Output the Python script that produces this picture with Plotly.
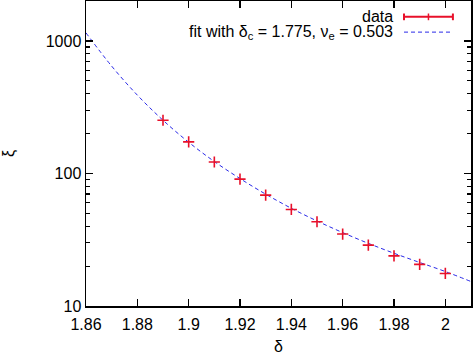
import plotly.graph_objects as go

# data
delta = [1.89, 1.90, 1.91, 1.92, 1.93, 1.94, 1.95, 1.96, 1.97, 1.98, 1.99, 2.00]
xi = [252, 173, 122, 90.6, 68.6, 53.5, 43.2, 34.9, 28.8, 23.9, 20.6, 17.6]

# fit curve values read at regular steps along the dashed line
fit_delta = [1.86, 1.87, 1.88, 1.89, 1.90, 1.91, 1.92, 1.93, 1.94, 1.95, 1.96, 1.97, 1.98, 1.99, 2.00, 2.01]
fit_xi = [1150, 645, 390, 252, 172, 123, 91.5, 69.8, 54.6, 43.8, 35.8, 29.7, 25.0, 21.3, 18.2, 15.3]

x_tickvals = [1.86, 1.88, 1.90, 1.92, 1.94, 1.96, 1.98, 2.00]
x_ticktext = ["1.86", "1.88", "1.9", "1.92", "1.94", "1.96", "1.98", "2"]
y_tickvals = [10, 100, 1000]
y_ticktext = ["10", "100", "1000"]
y_minor = [m * d for d in (10, 100, 1000) for m in range(2, 10)]

legend_labels = ["data", "fit with δ<sub>c</sub> = 1.775, ν<sub>e</sub> = 0.503"]

FONT = "Liberation Sans, Arial, Helvetica, sans-serif"
RED = "#e8102a"
BLUE = "#2a2ae8"

fig = go.Figure()
fig.add_trace(go.Scatter(
    x=fit_delta, y=fit_xi, mode="lines", line_shape="spline",
    line=dict(color=BLUE, width=1, dash="4px,3px"), showlegend=False,
))
fig.add_trace(go.Scatter(
    x=delta, y=xi, mode="markers",
    marker=dict(symbol="cross-thin", size=8, line=dict(color=RED, width=1.6)),
    showlegend=False,
))

axis_common = dict(
    showline=True, linecolor="black", linewidth=1.5, mirror="allticks",
    ticks="inside", tickcolor="black", tickwidth=1.5, showgrid=False, zeroline=False,
    tickfont=dict(family=FONT, size=16, color="black"), automargin=False,
)

fig.update_xaxes(
    range=[1.86, 2.01], tickmode="array", tickvals=x_tickvals, ticktext=x_ticktext,
    ticklen=7, ticklabelstandoff=3,
    title=dict(text="δ", font=dict(family=FONT, size=16, color="black"), standoff=10),
    **axis_common,
)
fig.update_yaxes(
    type="log", range=[1, 3.30103], tickmode="array", tickvals=y_tickvals, ticktext=y_ticktext,
    ticklen=7,
    minor=dict(tickmode="array", tickvals=y_minor, ticks="inside", ticklen=4, tickcolor="black", tickwidth=1.2),
    title=dict(text="ξ", font=dict(family=FONT, size=16, color="black"), standoff=27),
    **axis_common,
)

# manual gnuplot-style legend (text left of sample)
ly = [0.948, 0.898]
for label, y in zip(legend_labels, ly):
    fig.add_annotation(
        x=0.802, y=y, xref="paper", yref="paper", text=label, showarrow=False,
        xanchor="right", yanchor="middle", font=dict(family=FONT, size=16, color="black"),
    )
x0, x1 = 0.826, 0.953
fig.add_shape(type="line", xref="paper", yref="paper", x0=x0, x1=x1, y0=ly[0], y1=ly[0],
              line=dict(color=RED, width=2))
for xc in (x0, x1):
    fig.add_shape(type="line", xref="paper", yref="paper", x0=xc, x1=xc, y0=ly[0] - 0.011, y1=ly[0] + 0.011,
                  line=dict(color=RED, width=2))
xm = (x0 + x1) / 2
fig.add_shape(type="line", xref="paper", yref="paper", x0=xm, x1=xm, y0=ly[0] - 0.011, y1=ly[0] + 0.011,
              line=dict(color=RED, width=1.5))
fig.add_shape(type="line", xref="paper", yref="paper", x0=x0, x1=x1, y0=ly[1], y1=ly[1],
              line=dict(color=BLUE, width=1, dash="4px,3px"))

fig.update_layout(
    width=474, height=355,
    margin=dict(l=86, r=3, t=1, b=49),
    paper_bgcolor="white", plot_bgcolor="white",
    font=dict(family=FONT, size=16, color="black"),
)

fig.write_html(
    "out.html",
    config={"displayModeBar": False, "staticPlot": True},
    post_script="document.body.style.margin='0';document.body.style.overflow='hidden';",
)
